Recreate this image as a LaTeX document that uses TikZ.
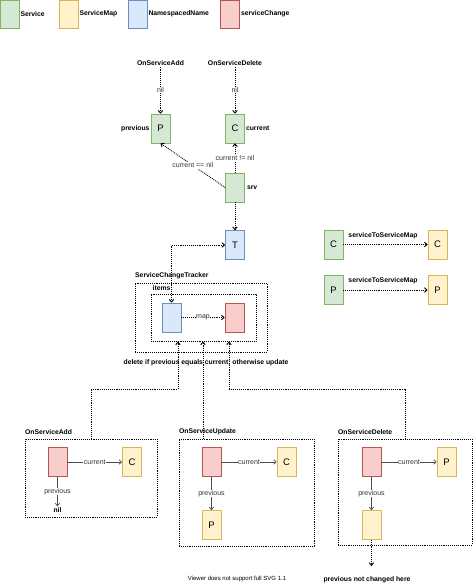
\documentclass[tikz,border=0pt]{standalone}
\usepackage{fontspec}
\setmainfont{Liberation Sans}
\usetikzlibrary{arrows.meta}
\definecolor{gfill}{HTML}{D5E8D4}\definecolor{gline}{HTML}{82B366}
\definecolor{yfill}{HTML}{FFF2CC}\definecolor{yline}{HTML}{D6B656}
\definecolor{bfill}{HTML}{DAE8FC}\definecolor{bline}{HTML}{6C8EBF}
\definecolor{rfill}{HTML}{F8CECC}\definecolor{rline}{HTML}{B85450}
\definecolor{edgegray}{HTML}{4D4D4D}
\begin{document}
\begin{tikzpicture}[x=1pt,y=-1pt,
  box/.style={rectangle, draw, line width=0.6pt, minimum width=19pt, minimum height=29pt, inner sep=0pt, font=\fontsize{9.5}{10}\selectfont},
  svc/.style={box, fill=gfill, draw=gline},
  smap/.style={box, fill=yfill, draw=yline},
  nsn/.style={box, fill=bfill, draw=bline},
  chg/.style={box, fill=rfill, draw=rline},
  lbl/.style={font=\bfseries\fontsize{6.8}{7}\selectfont, inner sep=1pt},
  elbl/.style={font=\fontsize{7}{8}\selectfont, fill=white, inner sep=0.6pt, text=black!80},
  tip/.tip={Straight Barb[length=2.6pt,width=4.5pt]},
  dotarrow/.style={densely dotted, line width=0.9pt, -tip},
  solarrow/.style={draw=edgegray, line width=0.7pt, -tip},
  frame/.style={densely dotted, line width=0.9pt, draw, rectangle, inner sep=0pt}]
\useasboundingbox (0,0) rectangle (474,586);
% legend
\node[svc, minimum height=28pt] (lg1) at (9.5,14) {};
\node[lbl, anchor=west] (lt1) at (lg1.east) {Service};
\node[smap, minimum height=28pt] (lg2) at (68.5,14) {};
\node[lbl, anchor=west] (lt2) at (lg2.east) {ServiceMap};
\node[nsn, minimum height=28pt] (lg3) at (137.5,14) {};
\node[lbl, anchor=west] (lt3) at (lg3.east) {NamespacedName};
\node[chg, minimum height=28pt] (lg4) at (230,14) {};
\node[lbl, anchor=west] (lt4) at (lg4.east) {serviceChange};
% top
\node[lbl] (tadd) at (160.5,63) {OnServiceAdd};
\node[lbl] (tdel) at (235,63) {OnServiceDelete};
\node[svc] (P) at (160.5,128.5) {P};
\node[svc] (C) at (235,128.5) {C};
\node[lbl, anchor=east] (Pl) at (P.west) {previous};
\node[lbl, anchor=west] (Cl) at (C.east) {current};
\node[svc] (srv) at (235,187.5) {};
\node[lbl, anchor=west] (srvl) at ([xshift=1pt]srv.east) {srv};
\node[nsn] (T) at (235,245) {T};
\draw[dotarrow] (tadd) -- node[elbl] {nil} (P);
\draw[dotarrow] (tdel) -- node[elbl] {nil} (C);
\draw[dotarrow] (srv) -- node[elbl] {current != nil} (C);
\draw[dotarrow] (srv.west) -- node[elbl] {current == nil} (P.south);
\draw[dotarrow] (srv) -- (T);
% tracker
\node[lbl, anchor=west] (sct) at (134,276) {ServiceChangeTracker};
\node[frame, minimum width=132pt, minimum height=69pt] (outer) at (201,317.5) {};
\node[frame, minimum width=105pt, minimum height=47pt] (inner) at (203.5,317.5) {};
\node[lbl, anchor=west] (items) at (151.5,288.5) {items};
\node[nsn] (itb) at (171.5,317.5) {};
\node[chg] (itr) at (234.5,317.5) {};
\draw[dotarrow] (itb) -- node[elbl] {map} (itr);
\draw[dotarrow, tip-tip] (itb.north) |- (T.west);
\node[lbl] (dlbl) at (206,363) {delete if previous equals current; otherwise update};
% right side
\node[svc] (gC) at (333.5,244.5) {C};
\node[smap] (yC) at (437.5,244.5) {C};
\node[svc] (gP) at (333.5,290) {P};
\node[smap] (yP) at (437.5,290) {P};
\draw[dotarrow] (gC) -- (yC);
\draw[dotarrow] (gP) -- (yP);
\node[lbl] (m1) at (383,235.5) {serviceToServiceMap};
\node[lbl] (m2) at (383,281) {serviceToServiceMap};
% bottom frames
\node[frame, minimum width=132pt, minimum height=78pt] (addf) at (91,478) {};
\node[frame, minimum width=135pt, minimum height=107pt] (updf) at (246.5,492.5) {};
\node[frame, minimum width=134pt, minimum height=106pt] (delf) at (405,492) {};
\node[lbl, anchor=west] (addt) at (24,432) {OnServiceAdd};
\node[lbl, anchor=west] (updt) at (178,432) {OnServiceUpdate};
\node[lbl, anchor=west] (delt) at (337,432) {OnServiceDelete};
\coordinate (xa) at (178,389);
\coordinate (xb) at (203,389);
\coordinate (xc) at (229,389);
\draw[dotarrow] (addf.north) |- (xa) -- (inner.south -| xa);
\draw[dotarrow] (updf.north -| xb) -- (inner.south -| xb);
\draw[dotarrow] (delf.north) |- (xc) -- (inner.south -| xc);
% add
\node[chg] (ar) at (57.5,462) {};
\node[smap] (ac) at (132,462) {C};
\node[lbl] (nil) at (57.5,510) {nil};
\draw[solarrow] (ar) -- node[elbl] {current} (ac);
\draw[solarrow] (ar) -- node[elbl] {previous} (nil.north);
% update
\node[chg] (ur) at (211.5,462) {};
\node[smap] (uc) at (286.5,462) {C};
\node[smap] (up) at (211.5,525) {P};
\draw[solarrow] (ur) -- node[elbl] {current} (uc);
\draw[solarrow] (ur) -- node[elbl] {previous} (up);
% delete
\node[chg] (dr) at (371.5,462) {};
\node[smap] (dp) at (446.5,462) {P};
\node[smap] (dy) at (371.5,525) {};
\coordinate (dend) at (371.5,566);
\draw[solarrow] (dr) -- node[elbl] {current} (dp);
\draw[solarrow] (dr) -- node[elbl] {previous} (dy);
\draw[dotarrow] (dy) -- (dend);
\node[lbl] (pnc) at (367,580) {previous not changed here};
\node[font=\fontsize{6}{7}\selectfont] (viewer) at (237,579) {Viewer does not support full SVG 1.1};
\end{tikzpicture}
\end{document}
